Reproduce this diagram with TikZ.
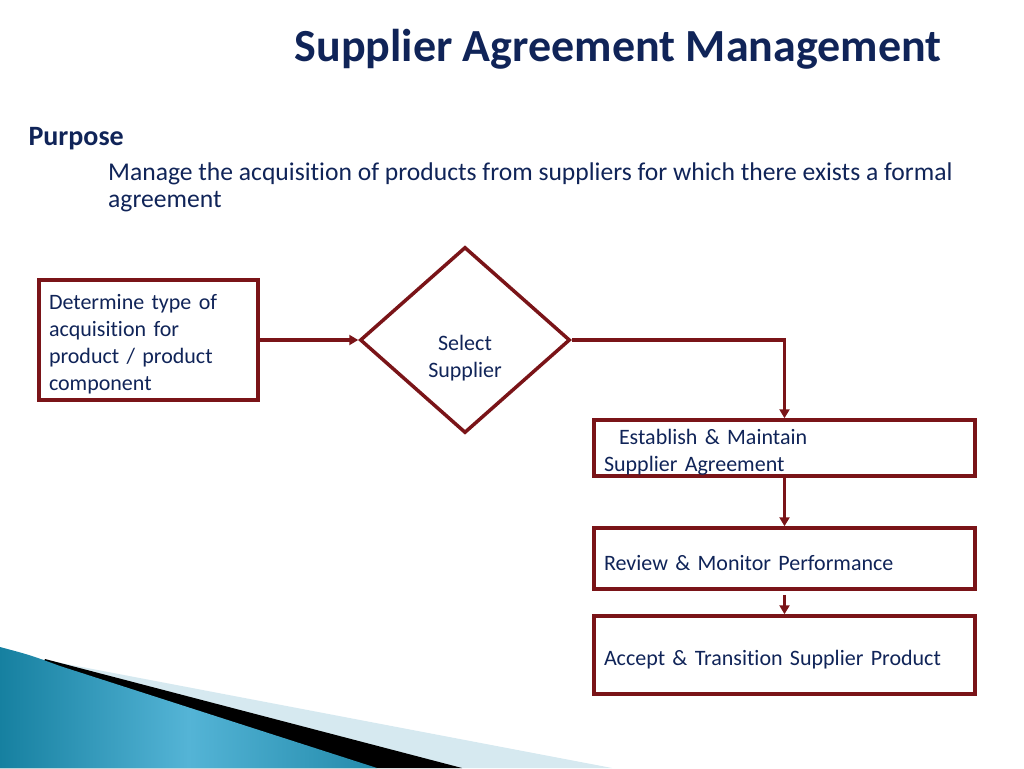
\documentclass[tikz,border=0pt]{standalone}
\usepackage{fontspec}
\setmainfont{Carlito}[Ligatures={TeX,NoCommon}]
\usetikzlibrary{shapes.geometric,arrows.meta,positioning}
\definecolor{navy}{RGB}{16,36,88}
\definecolor{boxred}{RGB}{122,20,24}
\definecolor{swdark}{RGB}{22,128,160}
\definecolor{swlight}{RGB}{84,180,214}
\definecolor{swpale}{RGB}{214,233,240}

\begin{document}
\begin{tikzpicture}[x=1pt,y=-1pt,
  stepbox/.style={draw=boxred, line width=3.5pt, text=navy, align=left,
    inner xsep=10pt, inner ysep=0pt, font=\fontsize{22}{27}\selectfont,
    execute at begin node={\rule{0pt}{24pt}}},
  wide/.style={stepbox, text width=361pt, minimum width=381pt},
  choice/.style={diamond, draw=boxred, line width=3.5pt, text=navy, align=center,
    inner sep=0pt, minimum width=210pt, minimum height=186pt,
    font=\fontsize{22}{27}\selectfont},
  flow/.style={draw=boxred, line width=3.5pt, -{Triangle[length=9pt,width=10pt]}}]
\useasboundingbox (0,0) rectangle (1024,768);

% swoosh in the corner
\fill[swpale] (40,659) -- (612,768) -- (0,768) -- cycle;
\fill[black] (45,659) -- (462,768) -- (0,768) -- cycle;
\shade[left color=swdark, right color=swdark!80!swlight, middle color=swlight]
  (0,647) .. controls (30,655) .. (60,666) -- (377,768) -- (0,768) -- cycle;

% heading
\node[font=\fontsize{46}{52}\bfseries, text=navy] (title) at (618,49)
  {Supplier Agreement Management};
\node[anchor=west, font=\fontsize{28}{32}\bfseries, text=navy] (purpose) at (25,139)
  {Purpose};
\node[anchor=north west, align=left, inner sep=0pt, text=navy,
  font=\fontsize{25.6}{27}\selectfont] (aim) at (108,163)
  {Manage the acquisition of products from suppliers for which there exists a formal\\
   agreement};

% flow
\node[stepbox, text width=199pt, minimum height=120pt] (type) at (148.5,340)
  {Determine type of\\acquisition for\\product / product\\component};
\node[choice] (sel) at (465,340)
  {\raisebox{-24pt}[0pt][0pt]{\begin{tabular}{@{}c@{}}Select\\Supplier\end{tabular}}};
\node[wide, minimum height=56pt] (est) at (784.5,448)
  {\hspace*{15pt}Establish \& Maintain\\Supplier Agreement};
\node[wide, minimum height=61pt] (rev) at (784.5,558.5)
  {Review \& Monitor Performance};
\node[wide, minimum height=78pt] (acc) at (784.5,655)
  {Accept \& Transition Supplier Product};

\draw[flow] (type.east) -- (sel.west);
\draw[flow] (sel.east) -| (est.north);
\draw[flow] (est.south) -- (rev.north);
\draw[flow, shorten <=4pt] (rev.south) -- (acc.north);
\end{tikzpicture}
\end{document}
